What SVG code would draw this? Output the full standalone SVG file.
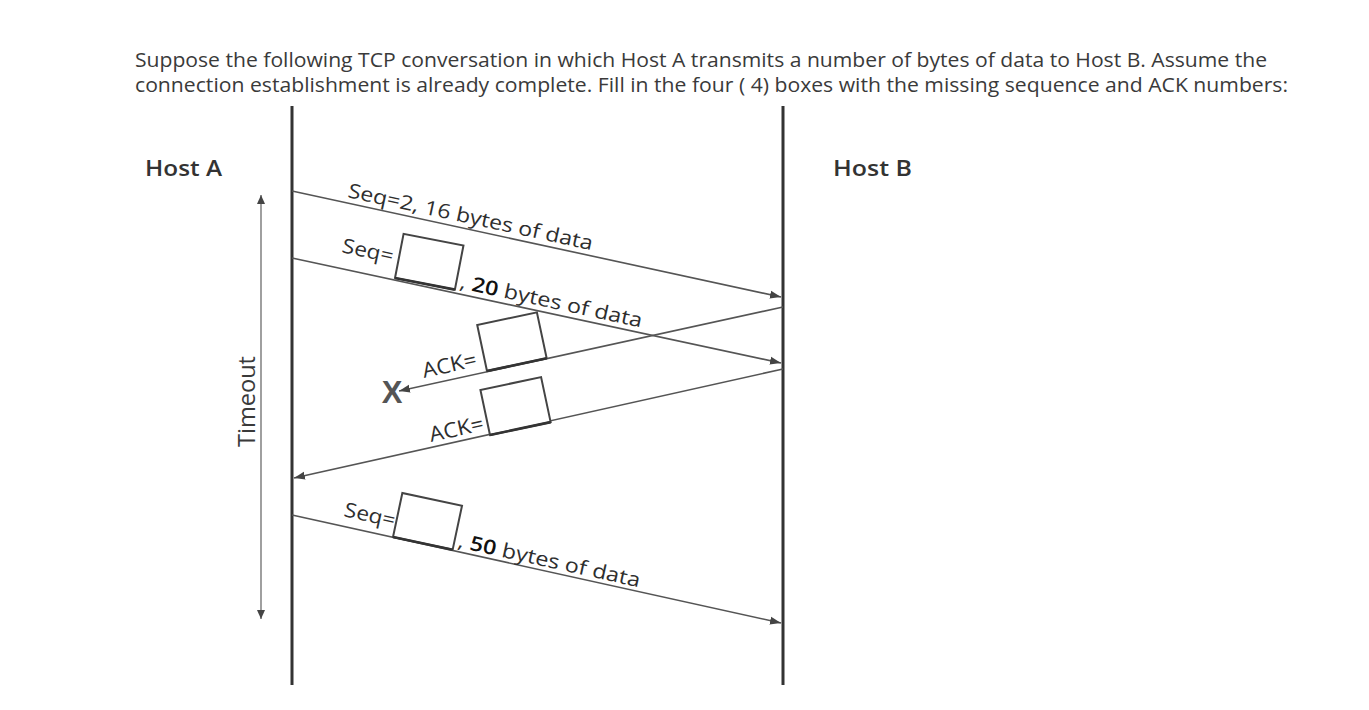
<svg xmlns="http://www.w3.org/2000/svg" width="1369" height="710" viewBox="0 0 1369 710">
<style>
.title{font-family:"Open Sans","Liberation Sans",sans-serif;font-size:20px;fill:#3a3a3a}
.host{font-family:"Open Sans","Liberation Sans",sans-serif;font-size:22px;fill:#333;font-weight:600}
.lbl{font-family:"Open Sans","Liberation Sans",sans-serif;font-size:20px;fill:#2e2e2e;font-weight:500}
.num{fill:#111;font-weight:600}
.timeline{stroke:#333;stroke-width:3;fill:none}
.msg{stroke:#555;stroke-width:1.6;fill:none;marker-end:url(#ah)}
.box{fill:#fff;stroke:#444;stroke-width:2}
.boxbase{stroke:#333;stroke-width:2.6}
</style>
<defs>
<marker id="ah" markerUnits="userSpaceOnUse" markerWidth="12" markerHeight="10" refX="11" refY="5" orient="auto">
<path d="M0,1 L11,5 L0,9 Z" fill="#444"/>
</marker>
<marker id="ts" markerUnits="userSpaceOnUse" markerWidth="10" markerHeight="10" refX="9" refY="5" orient="auto-start-reverse">
<path d="M0,1 L9,5 L0,9 Z" fill="#444"/>
</marker>
</defs>
<rect width="1369" height="710" fill="#fff"/>
<g id="title">
<text class="title" x="135" y="67" textLength="1132" lengthAdjust="spacingAndGlyphs">Suppose the following TCP conversation in which Host A transmits a number of bytes of data to Host B. Assume the</text>
<text class="title" x="135" y="92" textLength="1153" lengthAdjust="spacingAndGlyphs">connection establishment is already complete. Fill in the four ( 4) boxes with the missing sequence and ACK numbers:</text>
</g>
<g id="hostA">
<line class="timeline" x1="292" y1="106" x2="292" y2="685"/>
<text class="host" x="145" y="176" textLength="77" lengthAdjust="spacingAndGlyphs">Host A</text>
</g>
<g id="hostB">
<line class="timeline" x1="783" y1="106" x2="783" y2="685"/>
<text class="host" x="833" y="176" textLength="79" lengthAdjust="spacingAndGlyphs">Host B</text>
</g>
<g id="timeout">
<line x1="261" y1="195" x2="261" y2="619" stroke="#777" stroke-width="1.4" marker-start="url(#ts)" marker-end="url(#ts)"/>
<text transform="translate(255,447) rotate(-90)" textLength="91" lengthAdjust="spacingAndGlyphs" font-family="Open Sans, Liberation Sans, sans-serif" font-size="23" fill="#3a3a3a">Timeout</text>
</g>
<g id="connectors">
<line class="msg" x1="292" y1="191" x2="781" y2="297"/>
<line class="msg" x1="292" y1="258" x2="781" y2="363"/>
<line class="msg" x1="783" y1="307" x2="399" y2="391"/>
<line class="msg" x1="783" y1="369" x2="294" y2="478"/>
<line class="msg" x1="292" y1="515" x2="781" y2="623"/>
</g>
<g id="msg1">
<text class="lbl" transform="translate(347,197) rotate(12.3)" textLength="250" lengthAdjust="spacingAndGlyphs">Seq=2, 16 bytes of data</text>
</g>
<g id="msg2">
<text class="lbl" transform="translate(341,252) rotate(12.2)" textLength="52" lengthAdjust="spacingAndGlyphs">Seq=</text>
<g transform="translate(395,278) rotate(11)">
<rect class="box" x="0" y="-45" width="61" height="45"/>
<line class="boxbase" x1="0" y1="0" x2="61" y2="0"/>
</g>
<text class="lbl" transform="translate(459,288) rotate(12.3)" textLength="186" lengthAdjust="spacingAndGlyphs">, <tspan class="num">20</tspan> bytes of data</text>
</g>
<g id="ack1">
<text class="lbl" transform="translate(424,378) rotate(-12.5)" textLength="55" lengthAdjust="spacingAndGlyphs" style="font-weight:400;font-size:21px">ACK=</text>
<g transform="translate(487,371) rotate(-12)">
<rect class="box" x="0" y="-47" width="61" height="47"/>
<line class="boxbase" x1="0" y1="0" x2="61" y2="0"/>
</g>
<text transform="translate(392,403)" text-anchor="middle" font-family="Liberation Sans, sans-serif" font-size="31" font-weight="700" fill="#555">X</text>
</g>
<g id="ack2">
<text class="lbl" transform="translate(431,442) rotate(-12.5)" textLength="55" lengthAdjust="spacingAndGlyphs" style="font-weight:400;font-size:21px">ACK=</text>
<g transform="translate(490,435) rotate(-12)">
<rect class="box" x="0" y="-46" width="62" height="46"/>
<line class="boxbase" x1="0" y1="0" x2="62" y2="0"/>
</g>
</g>
<g id="msg3">
<text class="lbl" transform="translate(343,516) rotate(12.5)" textLength="52" lengthAdjust="spacingAndGlyphs">Seq=</text>
<g transform="translate(393,537) rotate(12)">
<rect class="box" x="0" y="-45" width="61" height="45"/>
<line class="boxbase" x1="0" y1="0" x2="61" y2="0"/>
</g>
<text class="lbl" transform="translate(457,547) rotate(12.5)" textLength="186" lengthAdjust="spacingAndGlyphs">, <tspan class="num">50</tspan> bytes of data</text>
</g>
</svg>
